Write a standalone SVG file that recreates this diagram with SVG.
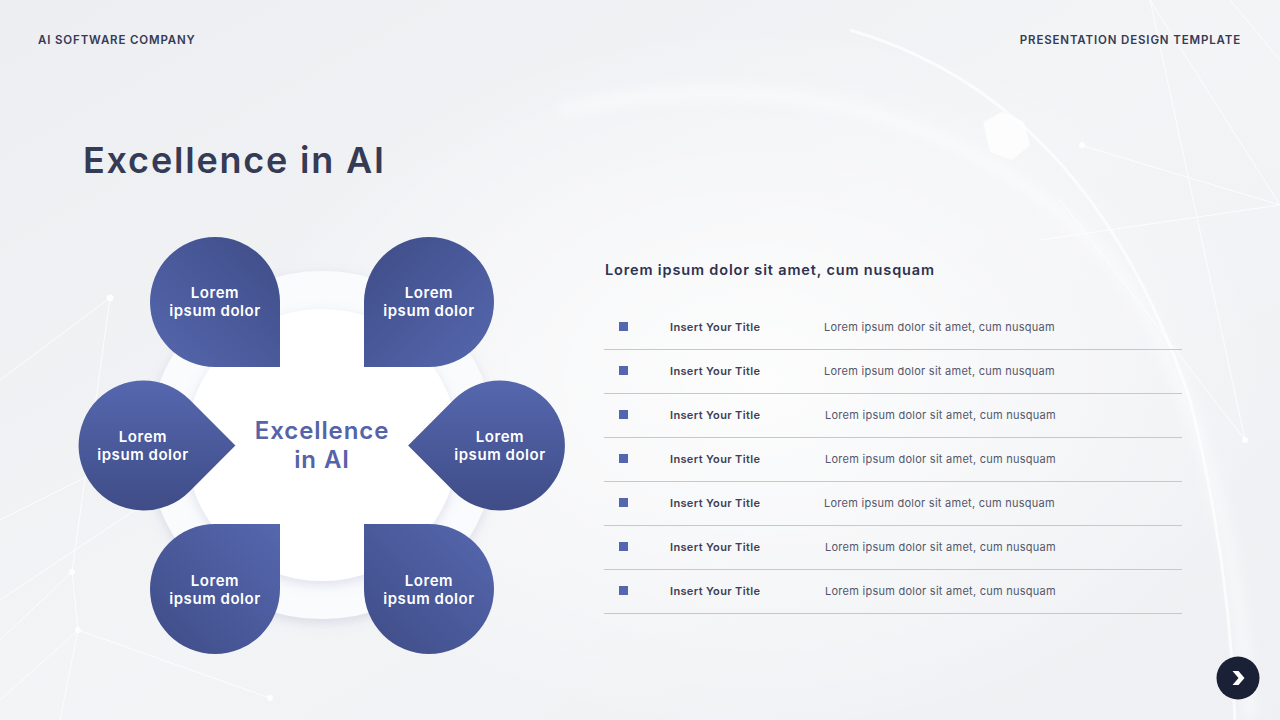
<svg xmlns="http://www.w3.org/2000/svg" width="1280" height="720" viewBox="0 0 1280 720">
  <defs>
    <linearGradient id="bg" x1="0" y1="0" x2="1" y2="1">
      <stop offset="0" stop-color="#eceef1"/>
      <stop offset="0.5" stop-color="#f3f4f6"/>
      <stop offset="1" stop-color="#eef0f3"/>
    </linearGradient>
    <radialGradient id="glow" cx="0.5" cy="0.5" r="0.5">
      <stop offset="0" stop-color="#ffffff" stop-opacity="0.8"/>
      <stop offset="1" stop-color="#ffffff" stop-opacity="0"/>
    </radialGradient>
    <linearGradient id="gTL" x1="0" y1="1" x2="1" y2="0">
      <stop offset="0" stop-color="#5567ae"/>
      <stop offset="1" stop-color="#3f4c87"/>
    </linearGradient>
    <linearGradient id="gTR" x1="1" y1="1" x2="0" y2="0">
      <stop offset="0" stop-color="#5567ae"/>
      <stop offset="1" stop-color="#3f4c87"/>
    </linearGradient>
    <linearGradient id="gV" x1="0" y1="0" x2="0" y2="1">
      <stop offset="0" stop-color="#5567ae"/>
      <stop offset="1" stop-color="#3f4c87"/>
    </linearGradient>
    <linearGradient id="gB" x1="1" y1="0" x2="0" y2="1">
      <stop offset="0" stop-color="#5567ae"/>
      <stop offset="1" stop-color="#3f4c87"/>
    </linearGradient>
    <filter id="soft" x="-20%" y="-20%" width="140%" height="140%">
      <feDropShadow dx="0" dy="4" stdDeviation="6" flood-color="#8a93b8" flood-opacity="0.25"/>
    </filter>
    <filter id="blur8"><feGaussianBlur stdDeviation="6"/></filter>
    <style>
      .hdr{font-family:Inter,"Liberation Sans",sans-serif;font-size:11.5px;font-weight:600;fill:#353a55;letter-spacing:0.85px;}
      .title{font-family:Inter,"Liberation Sans",sans-serif;font-size:36px;font-weight:600;fill:#353a55;letter-spacing:1.8px;}
      .sub{font-family:Inter,"Liberation Sans",sans-serif;font-size:14.5px;font-weight:600;fill:#2d3250;letter-spacing:0.85px;}
      .rt{font-family:Inter,"Liberation Sans",sans-serif;font-size:11px;font-weight:600;fill:#3d4052;letter-spacing:0.35px;}
      .rd{font-family:Inter,"Liberation Sans",sans-serif;font-size:11px;font-weight:400;fill:#53566a;letter-spacing:0.26px;}
      .pl{font-family:Inter,"Liberation Sans",sans-serif;font-size:15px;font-weight:600;fill:#ffffff;text-anchor:middle;letter-spacing:0.55px;}
      .ct{font-family:Inter,"Liberation Sans",sans-serif;font-size:24px;font-weight:600;fill:#5563a8;text-anchor:middle;letter-spacing:0.9px;}
      .bul{fill:#5566b0;}
      .sep{stroke:#c6c8ce;stroke-width:1.2;}
      .net{stroke:#ffffff;stroke-width:1;fill:none;opacity:0.8;}
    </style>
  </defs>

  <!-- background -->
  <rect width="1280" height="720" fill="url(#bg)"/>
  <ellipse cx="760" cy="380" rx="520" ry="360" fill="url(#glow)"/>
  <path d="M 560 110 Q 900 40 1110 260 Q 1230 420 1250 720" fill="none" stroke="#ffffff" stroke-width="14" opacity="0.45" filter="url(#blur8)"/>
  <path d="M 850 30 Q 1090 100 1190 400 Q 1230 560 1235 720" fill="none" stroke="#ffffff" stroke-width="3" opacity="0.7"/>
  <polygon points="983,122 1002,112 1024,122 1030,145 1012,160 990,152" fill="#ffffff" opacity="0.8"/>
  <g class="net">
    <line x1="1150" y1="0" x2="1245" y2="440"/>
    <line x1="1150" y1="0" x2="1280" y2="205"/>
    <line x1="1080" y1="145" x2="1280" y2="205"/>
    <line x1="1040" y1="240" x2="1280" y2="205"/>
    <line x1="1230" y1="0" x2="1280" y2="60"/>
    <line x1="1060" y1="200" x2="1245" y2="440"/>
    <line x1="110" y1="298" x2="0" y2="380"/>
    <line x1="110" y1="298" x2="72" y2="572"/>
    <line x1="0" y1="520" x2="200" y2="420"/>
    <line x1="72" y1="572" x2="0" y2="640"/>
    <line x1="72" y1="572" x2="78" y2="630"/>
    <line x1="78" y1="630" x2="0" y2="700"/>
    <line x1="78" y1="630" x2="60" y2="720"/>
    <line x1="78" y1="630" x2="270" y2="698"/>
    <line x1="0" y1="600" x2="150" y2="500"/>
  </g>
  <g fill="#ffffff" opacity="0.9">
    <circle cx="110" cy="298" r="3.5"/>
    <circle cx="72" cy="572" r="3"/>
    <circle cx="78" cy="630" r="3"/>
    <circle cx="270" cy="698" r="3"/>
    <circle cx="1245" cy="440" r="3"/>
    <circle cx="1082" cy="145" r="3"/>
  </g>

  <!-- header -->
  <text class="hdr" x="38" y="44">AI SOFTWARE COMPANY</text>
  <text class="hdr" x="1241" y="44" text-anchor="end">PRESENTATION DESIGN TEMPLATE</text>
  <text class="title" x="83" y="173">Excellence in AI</text>

  <!-- center circles -->
  <g id="center">
    <circle cx="322" cy="445" r="174" fill="#fafbfd" filter="url(#soft)"/>
    <circle cx="322" cy="445" r="136" fill="#ffffff" filter="url(#soft)"/>
    <text class="ct" x="322" y="439">Excellence</text>
    <text class="ct" x="322" y="468">in AI</text>
  </g>

  <!-- petals -->
  <g id="petal-tl">
    <path d="M280,367 L280,302 A65,65 0 1 0 215,367 Z" fill="url(#gTL)"/>
    <text class="pl" x="215" y="298">Lorem</text>
    <text class="pl" x="215" y="316">ipsum dolor</text>
  </g>
  <g id="petal-tr">
    <path d="M364,367 L364,302 A65,65 0 1 1 429,367 Z" fill="url(#gTR)"/>
    <text class="pl" x="429" y="298">Lorem</text>
    <text class="pl" x="429" y="316">ipsum dolor</text>
  </g>
  <g id="petal-l">
    <path d="M235.4,445.5 L189.5,491.5 A65,65 0 1 1 189.5,399.5 Z" fill="url(#gV)"/>
    <text class="pl" x="143" y="442">Lorem</text>
    <text class="pl" x="143" y="460">ipsum dolor</text>
  </g>
  <g id="petal-r">
    <path d="M408.1,445.5 L454,399.5 A65,65 0 1 1 454,491.5 Z" fill="url(#gV)"/>
    <text class="pl" x="500" y="442">Lorem</text>
    <text class="pl" x="500" y="460">ipsum dolor</text>
  </g>
  <g id="petal-bl">
    <path d="M280,524 L280,589 A65,65 0 1 1 215,524 Z" fill="url(#gB)"/>
    <text class="pl" x="215" y="586">Lorem</text>
    <text class="pl" x="215" y="604">ipsum dolor</text>
  </g>
  <g id="petal-br">
    <path d="M364,524 L364,589 A65,65 0 1 0 429,524 Z" fill="url(#gB)"/>
    <text class="pl" x="429" y="586">Lorem</text>
    <text class="pl" x="429" y="604">ipsum dolor</text>
  </g>

  <!-- list -->
  <g id="list">
    <text class="sub" x="605" y="275">Lorem ipsum dolor sit amet, cum nusquam</text>
    <g id="row1"><rect class="bul" x="619" y="322" width="9" height="9"/><text class="rt" x="670" y="331">Insert Your Title</text><text class="rd" x="824" y="331">Lorem ipsum dolor sit amet, cum nusquam</text></g>
    <g id="row2"><rect class="bul" x="619" y="366" width="9" height="9"/><text class="rt" x="670" y="375">Insert Your Title</text><text class="rd" x="824" y="375">Lorem ipsum dolor sit amet, cum nusquam</text></g>
    <g id="row3"><rect class="bul" x="619" y="410" width="9" height="9"/><text class="rt" x="670" y="419">Insert Your Title</text><text class="rd" x="825" y="419">Lorem ipsum dolor sit amet, cum nusquam</text></g>
    <g id="row4"><rect class="bul" x="619" y="454" width="9" height="9"/><text class="rt" x="670" y="463">Insert Your Title</text><text class="rd" x="825" y="463">Lorem ipsum dolor sit amet, cum nusquam</text></g>
    <g id="row5"><rect class="bul" x="619" y="498" width="9" height="9"/><text class="rt" x="670" y="507">Insert Your Title</text><text class="rd" x="824" y="507">Lorem ipsum dolor sit amet, cum nusquam</text></g>
    <g id="row6"><rect class="bul" x="619" y="542" width="9" height="9"/><text class="rt" x="670" y="551">Insert Your Title</text><text class="rd" x="825" y="551">Lorem ipsum dolor sit amet, cum nusquam</text></g>
    <g id="row7"><rect class="bul" x="619" y="586" width="9" height="9"/><text class="rt" x="670" y="595">Insert Your Title</text><text class="rd" x="825" y="595">Lorem ipsum dolor sit amet, cum nusquam</text></g>
    <g class="sep">
      <line x1="604" y1="349.5" x2="1182" y2="349.5"/>
      <line x1="604" y1="393.5" x2="1182" y2="393.5"/>
      <line x1="604" y1="437.5" x2="1182" y2="437.5"/>
      <line x1="604" y1="481.5" x2="1182" y2="481.5"/>
      <line x1="604" y1="525.5" x2="1182" y2="525.5"/>
      <line x1="604" y1="569.5" x2="1182" y2="569.5"/>
      <line x1="604" y1="613.5" x2="1182" y2="613.5"/>
    </g>
  </g>

  <!-- next button -->
  <g id="next">
    <circle cx="1238" cy="678" r="21.5" fill="#1a2035"/>
    <path d="M1232.5,671 L1238.5,671 L1244.5,678 L1238.5,685 L1232.5,685 L1238.5,678 Z" fill="#ffffff"/>
  </g>
</svg>
